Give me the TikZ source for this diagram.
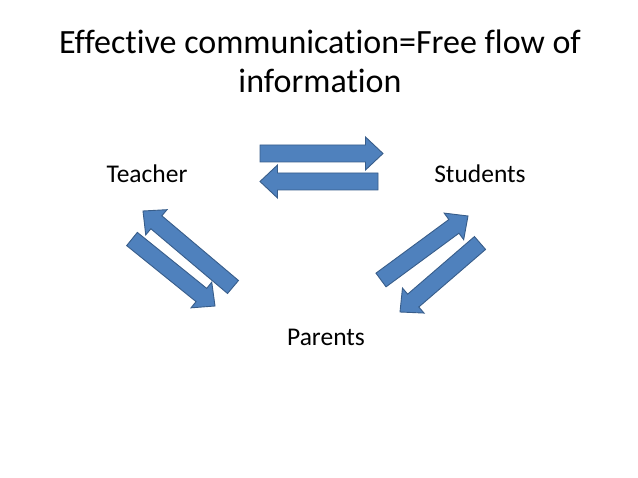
\documentclass[tikz,border=0pt]{standalone}
\usepackage{fontspec}
\setmainfont{Carlito}[Ligatures=NoCommon]
\usetikzlibrary{calc}
\definecolor{fillblue}{HTML}{4F81BD}
\definecolor{edgeblue}{HTML}{385D8A}
\tikzset{blockarrow/.style={fill=fillblue,draw=edgeblue,line width=0.9pt,line join=miter},
  lbl/.style={font=\fontsize{25.5}{30}\selectfont,inner sep=0pt}}
% #1 tail, #2 tip
\newcommand\myblockarrow[2]{%
  \coordinate (hb) at ($(#2)!17.5pt!(#1)$);
  \draw[blockarrow] ($(#1)!8.5pt!-90:(#2)$) -- ($(hb)!8.5pt!-90:(#2)$) -- ($(hb)!16.5pt!-90:(#2)$) -- (#2)
    -- ($(hb)!16.5pt!90:(#2)$) -- ($(hb)!8.5pt!90:(#2)$) -- ($(#1)!8.5pt!90:(#2)$) -- cycle;}
\begin{document}
\begin{tikzpicture}[x=1pt,y=-1pt]
\useasboundingbox (0,0) rectangle (638,478);
\node[align=center,font=\fontsize{34}{39}\selectfont] (title) at (320,61) {Effective communication=Free flow of\\information};
\node[lbl] (teacher) at (147,174) {Teacher};
\node[lbl] (students) at (480,174) {Students};
\node[lbl] (parents) at (326,337) {Parents};
\coordinate (a1) at (260,153.5); \coordinate (a2) at (383,153.5);
\coordinate (b1) at (378,181.5); \coordinate (b2) at (260,181.5);
\coordinate (c1) at (233,287); \coordinate (c2) at (143,211);
\coordinate (d1) at (132,239); \coordinate (d2) at (215,306);
\coordinate (e1) at (381,280); \coordinate (e2) at (468,216);
\coordinate (f1) at (480,243); \coordinate (f2) at (400,312);
\myblockarrow{a1}{a2}
\myblockarrow{b1}{b2}
\myblockarrow{c1}{c2}
\myblockarrow{d1}{d2}
\myblockarrow{e1}{e2}
\myblockarrow{f1}{f2}
\end{tikzpicture}
\end{document}
